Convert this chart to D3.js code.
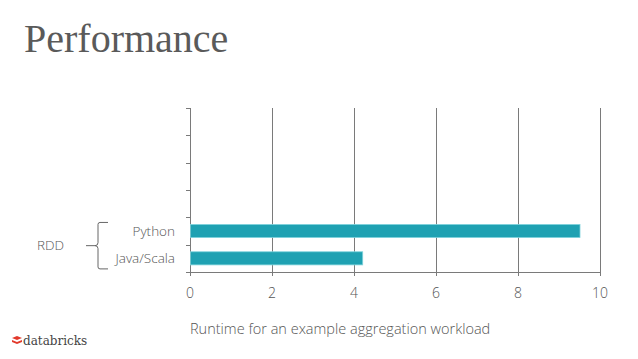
<!DOCTYPE html>
<html>
<head>
<meta charset="utf-8">
<script src="https://cdn.jsdelivr.net/npm/d3@7"></script>
<style>
  body { margin: 0; background: #fff; }
  svg text { fill: #555; }
</style>
</head>
<body>
<div id="chart"></div>
<script>
const width = 638;
const height = 359;

// six slots on the y axis, only the bottom two hold bars
const slots = ['s1', 's2', 's3', 's4', 'python', 'java'];
const slotLabels = ['', '', '', '', 'Python', 'Java/Scala'];
const runtimes = [null, null, null, null, 9.5, 4.2];
const xTicks = [0, 2, 4, 6, 8, 10];
const groupLabel = 'RDD';

const margin = { left: 190, right: 38, top: 108, bottom: 87 };

const svg = d3.select('#chart')
  .append('svg')
  .attr('width', width)
  .attr('height', height);

svg.append('text')
  .attr('x', 24)
  .attr('y', 52)
  .style('font-family', '"Liberation Serif", serif')
  .style('font-size', '40px')
  .style('fill', '#5a5a5a')
  .text('Performance');

const xScale = d3.scaleLinear()
  .domain([0, 10])
  .range([margin.left, width - margin.right]);

const yScale = d3.scaleBand()
  .domain(slots)
  .range([margin.top, height - margin.bottom])
  .paddingInner(0.52)
  .paddingOuter(0.26);

const plotBottom = height - margin.bottom;

// vertical grid lines
svg.append('g')
  .selectAll('line')
  .data(xTicks)
  .enter()
  .append('line')
  .attr('x1', (d) => xScale(d) + 0.5)
  .attr('x2', (d) => xScale(d) + 0.5)
  .attr('y1', margin.top)
  .attr('y2', plotBottom + 4)
  .attr('stroke', '#7a7a7a')
  .attr('stroke-width', 1);

// y ticks on band boundaries
const bandEdges = d3.range(slots.length + 1)
  .map((i) => margin.top + i * (plotBottom - margin.top) / slots.length);

svg.append('g')
  .selectAll('line')
  .data(bandEdges)
  .enter()
  .append('line')
  .attr('x1', margin.left - 4)
  .attr('x2', margin.left)
  .attr('y1', (d) => Math.round(d) + 0.5)
  .attr('y2', (d) => Math.round(d) + 0.5)
  .attr('stroke', '#7a7a7a');

// bottom axis line
svg.append('line')
  .attr('x1', margin.left - 4)
  .attr('x2', xScale(10) + 0.5)
  .attr('y1', Math.round(plotBottom) + 0.5)
  .attr('y2', Math.round(plotBottom) + 0.5)
  .attr('stroke', '#7a7a7a');

// bars
const barData = slots.map((s, i) => ({ slot: s, value: runtimes[i] }))
  .filter((d) => d.value != null);

svg.append('g')
  .selectAll('rect')
  .data(barData)
  .enter()
  .append('rect')
  .attr('x', xScale(0) + 0.5)
  .attr('y', (d) => yScale(d.slot))
  .attr('width', (d) => xScale(d.value) - xScale(0))
  .attr('height', yScale.bandwidth())
  .attr('fill', '#1fa1b2')
  .attr('stroke', '#7fd3dc')
  .attr('stroke-width', 0.8);

// category labels
svg.append('g')
  .selectAll('text')
  .data(slots.map((s, i) => ({ slot: s, label: slotLabels[i] })))
  .enter()
  .append('text')
  .attr('x', 175)
  .attr('y', (d) => yScale(d.slot) + yScale.bandwidth() / 2)
  .attr('dy', '0.35em')
  .attr('text-anchor', 'end')
  .style('font-family', '"Open Sans", sans-serif')
  .style('font-weight', 300)
  .style('font-size', '13.5px')
  .text((d) => d.label);

// x tick labels
svg.append('g')
  .selectAll('text')
  .data(xTicks)
  .enter()
  .append('text')
  .attr('x', (d) => xScale(d))
  .attr('y', 298)
  .attr('text-anchor', 'middle')
  .style('font-family', '"Open Sans", sans-serif')
  .style('font-weight', 300)
  .style('font-size', '14px')
  .text((d) => d);

// brace grouping the RDD bars
const yTop = yScale('python') - 2;
const yBot = yScale('java') + yScale.bandwidth() + 4;
const yMid = (yTop + yBot) / 2;
const bx = 98;
svg.append('path')
  .attr('d', `M108,${yTop} L${bx + 2},${yTop} Q${bx},${yTop} ${bx},${yTop + 2} L${bx},${yMid - 3}
    Q${bx},${yMid} ${bx - 3},${yMid} L86,${yMid} M${bx - 3},${yMid} Q${bx},${yMid} ${bx},${yMid + 3}
    L${bx},${yBot - 2} Q${bx},${yBot} ${bx + 2},${yBot} L108,${yBot}`)
  .attr('fill', 'none')
  .attr('stroke', '#666')
  .attr('stroke-width', 1);

svg.append('text')
  .attr('x', 37)
  .attr('y', yMid)
  .attr('dy', '0.35em')
  .style('font-family', '"Open Sans", sans-serif')
  .style('font-weight', 300)
  .style('font-size', '13.5px')
  .text(groupLabel);

// axis title
svg.append('text')
  .attr('x', 190)
  .attr('y', 334)
  .style('font-family', '"Open Sans", sans-serif')
  .style('font-weight', 300)
  .style('font-size', '14.5px')
  .text('Runtime for an example aggregation workload');

// databricks logo
const logo = svg.append('g').attr('transform', 'translate(12, 336)');
logo.append('path')
  .attr('d', 'M0,2 L5,0 L10,2 L5,4 Z M0,4 L5,6 L10,4 L10,6 L5,8 L0,6 Z')
  .attr('fill', '#e2392b');
svg.append('text')
  .attr('x', 23)
  .attr('y', 345)
  .style('font-family', '"DejaVu Serif", serif')
  .style('font-size', '12px')
  .style('fill', '#444')
  .text('databricks');
</script>
</body>
</html>
